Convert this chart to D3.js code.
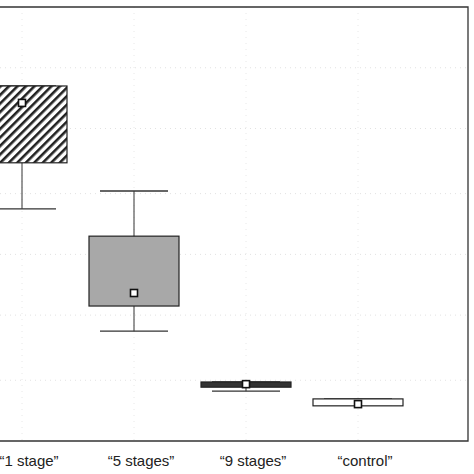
<!DOCTYPE html><html><head><script src="https://cdn.jsdelivr.net/npm/d3@7"></script>
<style>body{margin:0;background:#fff}</style></head><body><svg id="c" width="474" height="474"></svg>
<script>
const categories=["“1 stage”","“5 stages”","“9 stages”","“control”"];
const boxTop=[8.18,4.72,1.36,0.97];
const boxBottom=[6.41,3.11,1.24,0.81];
const means=[7.79,3.41,1.31,0.85];
const whiskerHigh=[8.18,5.76,1.36,0.97];
const whiskerLow=[5.35,2.53,1.15,0.84];
const fills=["hatch","#a8a8a8","#333","#fff"];
const svg=d3.select("#c");
const x=d3.scalePoint().domain(categories).range([22,358]);
const y=d3.scaleLinear().domain([0,10]).range([441,7]);
const defs=svg.append("defs");
const p=defs.append("pattern").attr("id","hatch").attr("patternUnits","userSpaceOnUse").attr("width",6).attr("height",6).attr("patternTransform","rotate(45)");
p.append("rect").attr("width",6).attr("height",6).attr("fill","#fff");
p.append("rect").attr("width",2.6).attr("height",6).attr("fill","#222");
[1.4,2.9,4.3,5.7,7.2,8.6].forEach(v=>svg.append("line").attr("x1",0).attr("x2",468).attr("y1",y(v)).attr("y2",y(v)).attr("stroke","#e2e2e2").attr("stroke-dasharray","1,4"));
categories.forEach(c=>svg.append("line").attr("x1",x(c)).attr("x2",x(c)).attr("y1",7).attr("y2",441).attr("stroke","#e8e8e8").attr("stroke-dasharray","1,5"));
svg.append("path").attr("d",`M-1,7H468V441H-1`).attr("fill","none").attr("stroke","#333").attr("stroke-width",1.3);
categories.forEach((c,i)=>{
  const cx=x(c),hw=45,cw=34;
  const g=svg.append("g");
  g.append("line").attr("x1",cx).attr("x2",cx).attr("y1",y(whiskerHigh[i])).attr("y2",y(whiskerLow[i])).attr("stroke","#333");
  [whiskerHigh[i],whiskerLow[i]].forEach(v=>g.append("line").attr("x1",cx-cw).attr("x2",cx+cw).attr("y1",y(v)).attr("y2",y(v)).attr("stroke","#333").attr("stroke-width",1.3));
  g.append("rect").attr("x",cx-hw).attr("width",hw*2).attr("y",y(boxTop[i])).attr("height",y(boxBottom[i])-y(boxTop[i]))
   .attr("fill",fills[i]==="hatch"?"url(#hatch)":fills[i]).attr("stroke","#222").attr("stroke-width",1.2);
  g.append("rect").attr("x",cx-3.5).attr("y",y(means[i])-3.5).attr("width",7).attr("height",7).attr("fill","#fff").attr("stroke","#111").attr("stroke-width",1.6);
  svg.append("text").attr("x",cx+7).attr("y",466).attr("text-anchor","middle").attr("font-family","Liberation Sans, Arial").attr("font-size",15).attr("fill","#222").text(c);
});
</script></body></html>
